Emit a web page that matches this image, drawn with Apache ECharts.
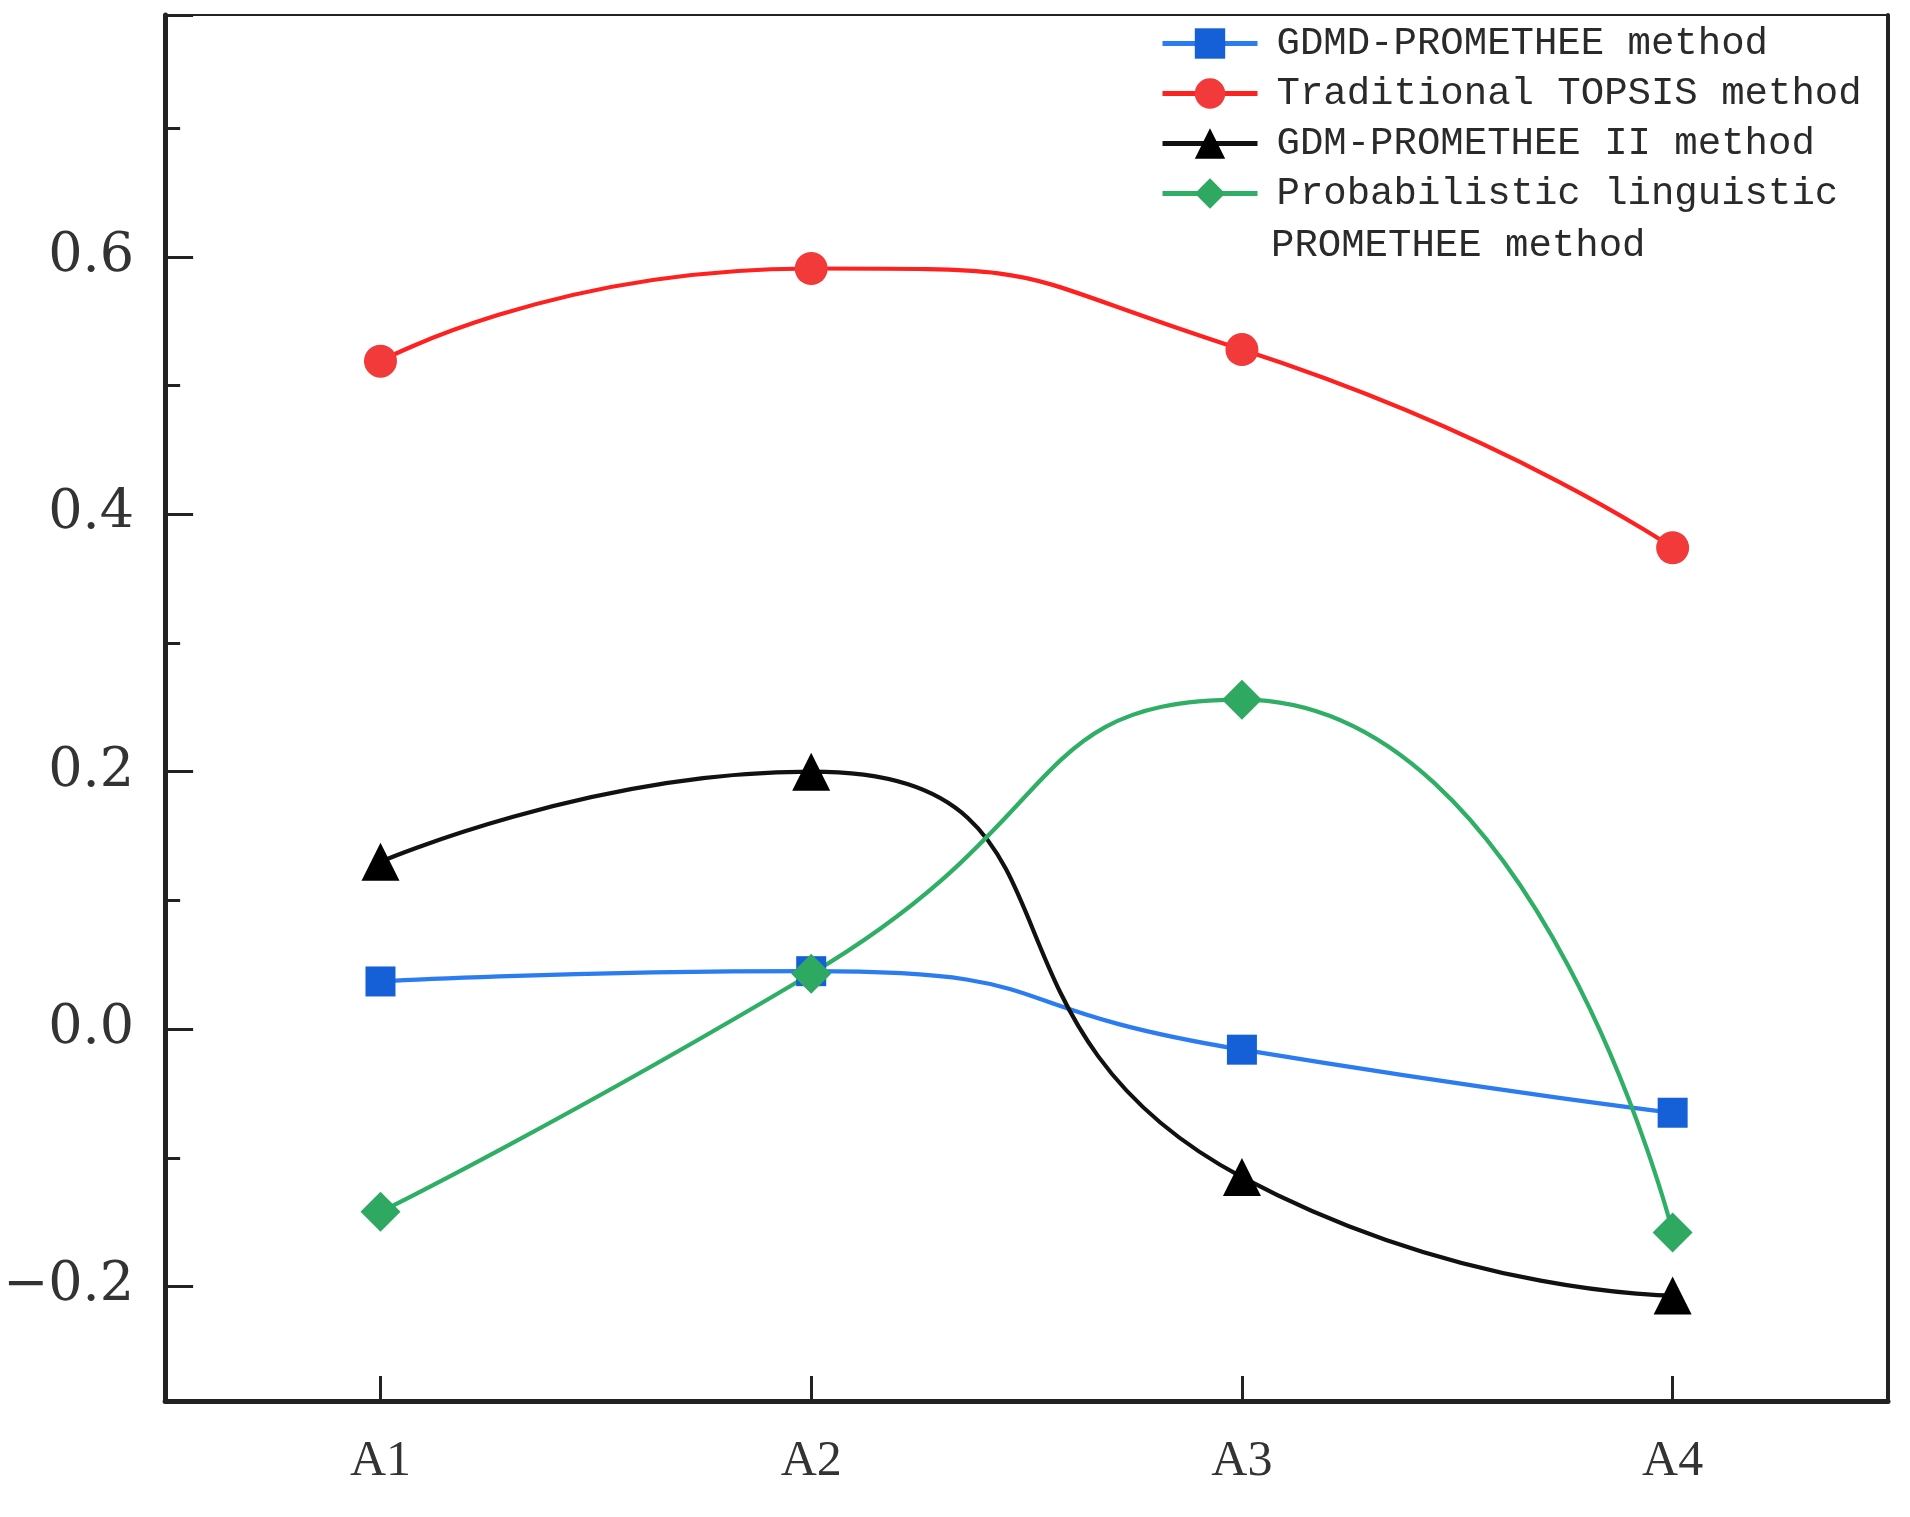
<!DOCTYPE html>
<html>
<head>
<meta charset="utf-8">
<script src="https://cdn.jsdelivr.net/npm/echarts@6/dist/echarts.min.js"></script>
<style>
html,body{margin:0;padding:0;background:#fff;}
#chart{width:1910px;height:1517px;}
</style>
</head>
<body>
<div id="chart"></div>
<script>
const categories = ['A1', 'A2', 'A3', 'A4'];
const seriesNames = [
  'GDMD-PROMETHEE method',
  'Traditional TOPSIS method',
  'GDM-PROMETHEE II method',
  'Probabilistic linguistic PROMETHEE method'
];
const gdmdPromethee = [0.037, 0.045, -0.016, -0.065];
const traditionalTopsis = [0.519, 0.591, 0.528, 0.374];
const gdmPrometheeII = [0.130, 0.200, -0.115, -0.207];
const probLinguistic = [-0.142, 0.043, 0.256, -0.158];

const chart = echarts.init(document.getElementById('chart'));

function mkSeries(name, data, color, lineColor, symbol, size) {
  return {
    name: name,
    type: 'line',
    data: data,
    smooth: 0.6,
    symbol: symbol,
    symbolSize: size,
    showAllSymbol: true,
    itemStyle: {color: color},
    lineStyle: {color: lineColor, width: 4.2},
    z: 3
  };
}

const yMin = -0.289, yMax = 0.788;

chart.setOption({
  backgroundColor: '#ffffff',
  animation: false,
  grid: {
    left: 164, right: 22, top: 15, bottom: 116,
    show: true, borderColor: '#222', borderWidth: 2
  },
  legend: {
    orient: 'vertical',
    left: 1155,
    top: 19,
    itemWidth: 95,
    itemHeight: 38,
    itemGap: 11,
    data: seriesNames,
    lineStyle: {width: 5},
    formatter: function (n) {
      return n === seriesNames[3] ? 'Probabilistic linguistic' : n;
    },
    textStyle: {
      fontFamily: 'Liberation Mono',
      fontSize: 39,
      color: '#2a2a2a',
      padding: [0, 0, 0, 14]
    }
  },
  graphic: [{
    type: 'text',
    left: 1271,
    top: 226,
    style: {
      text: 'PROMETHEE method',
      font: '39px "Liberation Mono"',
      fill: '#2a2a2a'
    }
  }],
  xAxis: {
    type: 'category',
    data: categories,
    boundaryGap: true,
    axisLine: {onZero: false, lineStyle: {color: '#222', width: 5}},
    axisTick: {show: true, alignWithLabel: true, inside: true, length: 25, lineStyle: {color: '#222', width: 3}},
    axisLabel: {
      margin: 36,
      fontFamily: 'Liberation Serif',
      fontSize: 50,
      color: '#333'
    },
    splitLine: {show: false}
  },
  yAxis: [{
    type: 'value',
    min: yMin,
    max: yMax,
    splitNumber: 5,
    axisLine: {show: true, onZero: false, lineStyle: {color: '#222', width: 5}},
    axisTick: {show: true, inside: true, length: 28, lineStyle: {color: '#222', width: 3}},
    minorTick: {show: true, splitNumber: 2, length: 15, lineStyle: {color: '#222', width: 3}},
    axisLabel: {
      showMinLabel: false,
      showMaxLabel: false,
      margin: 31,
      fontFamily: 'DejaVu Serif',
      fontSize: 54,
      color: '#333',
      formatter: function (v) { return v.toFixed(1).replace('-', '\u2212'); }
    },
    splitLine: {show: false}
  }, {
    type: 'value',
    position: 'right',
    min: yMin,
    max: yMax,
    axisLine: {show: true, onZero: false, lineStyle: {color: '#222', width: 4}},
    axisTick: {show: false},
    axisLabel: {show: false},
    splitLine: {show: false}
  }],
  series: [
    mkSeries(seriesNames[0], gdmdPromethee, '#1560d6', '#2b7cf0', 'rect', 30),
    mkSeries(seriesNames[1], traditionalTopsis, '#f23a3a', '#ff2020', 'circle', 33),
    mkSeries(seriesNames[2], gdmPrometheeII, '#000000', '#111111', 'triangle', 38),
    mkSeries(seriesNames[3], probLinguistic, '#2fa862', '#2fae66', 'diamond', 40)
  ]
});
</script>
</body>
</html>
